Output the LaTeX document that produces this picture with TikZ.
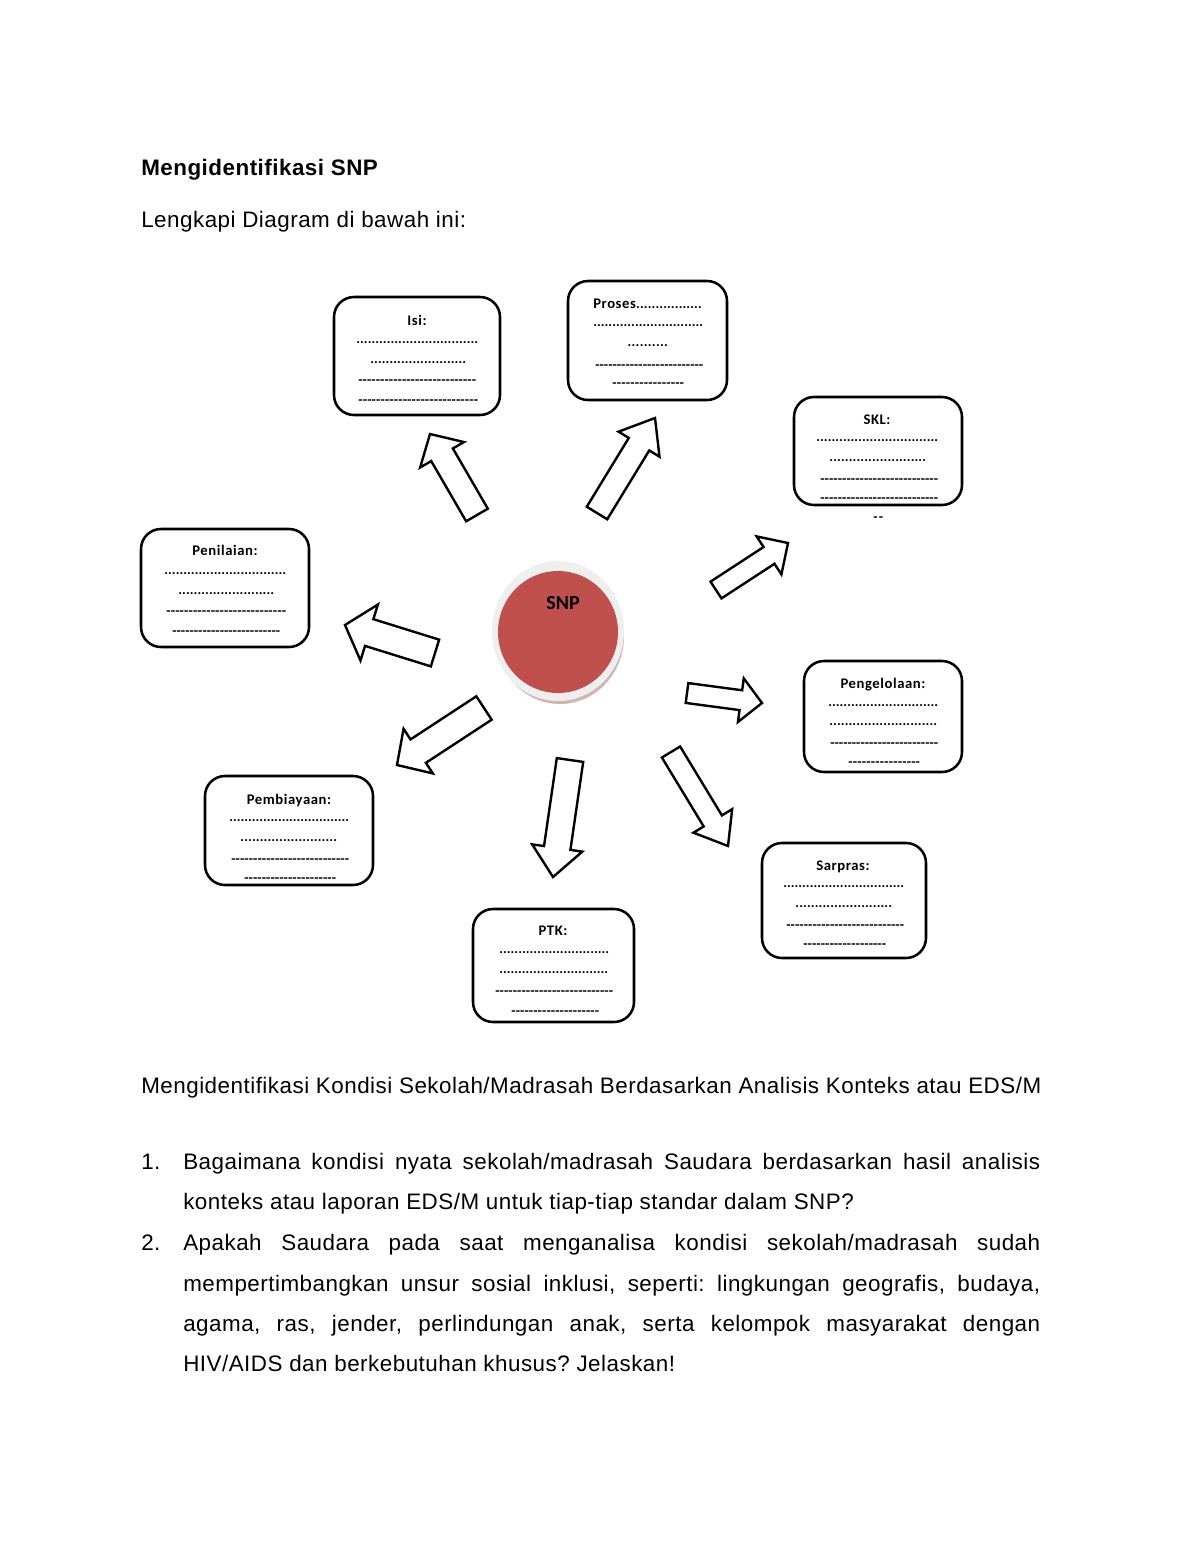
\documentclass[tikz,border=0pt]{standalone}
\usepackage{fontspec}
\setmainfont{Liberation Sans}[LetterSpace=2.2]
\newfontfamily\calfont{Carlito}
\newfontfamily\caltitle{Carlito}[LetterSpace=4]
\usetikzlibrary{calc,shapes.geometric}
\definecolor{snpred}{HTML}{C0504D}
\definecolor{ringgray}{HTML}{EFEFEF}
\definecolor{shadowred}{HTML}{D2B4B4}
\frenchspacing
\newcommand\dotsln[1]{\hbox to \dimexpr #1pt*3/4\relax{\xleaders\hbox{\bfseries.}\hfill}}
\newcommand\dashln[1]{\hbox to \dimexpr #1pt*3/4\relax{\xleaders\hbox{\bfseries-}\hfill}}
\newcommand\blockarrow[5]{%
  \coordinate (ahd) at ($(#2)!#5!(#1)$);
  \draw[barrow] ($(#1)!#3!90:(#2)$) -- ($(ahd)!#3!90:(#2)$) -- ($(ahd)!#4!90:(#2)$) -- (#2)
     -- ($(ahd)!#4!-90:(#2)$) -- ($(ahd)!#3!-90:(#2)$) -- ($(#1)!#3!-90:(#2)$) -- cycle;
}
\tikzset{
  boxst/.style={draw, line width=1.9pt, rounded corners=15pt, fill=white},
  barrow/.style={draw, line width=1.8pt, fill=white, line join=miter},
  btitle/.style={font=\caltitle\bfseries\fontsize{11pt}{12pt}\selectfont, anchor=base, inner sep=0pt},
  bline/.style={font=\calfont\fontsize{10.5pt}{12pt}\selectfont, anchor=base west, inner sep=0pt},
  body/.style={font=\fontsize{16.8pt}{19pt}\selectfont, anchor=base west, inner sep=0pt},
}
\begin{document}
\begin{tikzpicture}[x=0.75pt, y=-0.75pt]
\fill[white] (0,0) rectangle (1200,1553);
\useasboundingbox (0,0) rectangle (1200,1553);

% headings
\node[body, font=\fontsize{16.8pt}{19pt}\selectfont\bfseries] (title) at (141,175) {Mengidentifikasi SNP};
\node[body] (sub) at (141,227) {Lengkapi Diagram di bawah ini:};

% central circle
\fill[shadowred] (560,636) ellipse [x radius=64, y radius=68];
\fill[ringgray] (558,631) ellipse [x radius=66, y radius=70];
\node[ellipse, fill=snpred, minimum width=90pt, minimum height=91.5pt, inner sep=0pt] (snp) at (558,632) {};
\node[font=\calfont\bfseries\fontsize{15pt}{18pt}\selectfont, inner sep=0pt] (snplabel) at (563,603) {SNP};

% boxes
\node[boxst, minimum width=124.5pt, minimum height=88.5pt] (isi) at (417,356) {};
\node[btitle] at (417,325) {Isi:};
\node[bline] at (356,343) {\dotsln{122}};
\node[bline] at (370,363) {\dotsln{96}};
\node[bline] at (358,384) {\dashln{118}};
\node[bline] at (358,404) {\dashln{120}};

\node[boxst, minimum width=119.25pt, minimum height=89.25pt] (proses) at (647.5,340.5) {};
\node[bline] at (593,308) {{\caltitle\bfseries\fontsize{11pt}{12pt}\selectfont Proses}\dotsln{66}};
\node[bline] at (593,326) {\dotsln{110}};
\node[bline] at (627,346) {\dotsln{41}};
\node[bline] at (595,369) {\dashln{108}};
\node[bline] at (612,387) {\dashln{72}};

\node[boxst, minimum width=126pt, minimum height=81pt] (skl) at (878,451) {};
\node[btitle] at (877,424) {SKL:};
\node[bline] at (816,441) {\dotsln{122}};
\node[bline] at (829,461) {\dotsln{97}};
\node[bline] at (820,483) {\dashln{118}};
\node[bline] at (820,502) {\dashln{118}};
\node[bline] at (872,521) {\dashln{12}};

\node[boxst, minimum width=126pt, minimum height=88.5pt] (penilaian) at (225,588) {};
\node[btitle] at (225,555) {Penilaian:};
\node[bline] at (164,574) {\dotsln{122}};
\node[bline] at (178,594) {\dotsln{96}};
\node[bline] at (166,615) {\dashln{120}};
\node[bline] at (172,635) {\dashln{108}};

\node[boxst, minimum width=118.5pt, minimum height=83.25pt] (pengelolaan) at (883,716.5) {};
\node[btitle] at (883,688) {Pengelolaan:};
\node[bline] at (828,706) {\dotsln{110}};
\node[bline] at (829,725) {\dotsln{108}};
\node[bline] at (830,747) {\dashln{108}};
\node[bline] at (848,766) {\dashln{72}};

\node[boxst, minimum width=126pt, minimum height=81.75pt] (pembiayaan) at (289,830.5) {};
\node[btitle] at (289,804) {Pembiayaan:};
\node[bline] at (229,821) {\dotsln{120}};
\node[bline] at (240,841) {\dotsln{97}};
\node[bline] at (231,863) {\dashln{118}};
\node[bline] at (244,882) {\dashln{92}};

\node[boxst, minimum width=123pt, minimum height=86.25pt] (sarpras) at (844,900.5) {};
\node[btitle] at (843,870) {Sarpras:};
\node[bline] at (783,887) {\dotsln{121}};
\node[bline] at (795,907) {\dotsln{97}};
\node[bline] at (786,929) {\dashln{118}};
\node[bline] at (803,948) {\dashln{83}};

\node[boxst, minimum width=120.75pt, minimum height=84.75pt] (ptk) at (553.5,965.5) {};
\node[btitle] at (553,935) {PTK:};
\node[bline] at (499,953) {\dotsln{110}};
\node[bline] at (499,973) {\dotsln{109}};
\node[bline] at (495,995) {\dashln{118}};
\node[bline] at (511,1015) {\dashln{88}};

% block arrows
\coordinate (tIsi) at (477,515);  \coordinate (pIsi) at (430,434);
\coordinate (tPro) at (597,513);  \coordinate (pPro) at (655,418);
\coordinate (tSkl) at (716,590);  \coordinate (pSkl) at (788,543);
\coordinate (tPen) at (435,653);  \coordinate (pPen) at (345,625);
\coordinate (tPem) at (484,708);  \coordinate (pPem) at (397,765);
\coordinate (tPtk) at (570,760);  \coordinate (pPtk) at (553,877);
\coordinate (tSar) at (671,752);  \coordinate (pSar) at (728,846);
\coordinate (tPgl) at (687,693);  \coordinate (pPgl) at (762,703);
\blockarrow{tIsi}{pIsi}{9.4pt}{19pt}{18pt}
\blockarrow{tPro}{pPro}{9pt}{18pt}{23pt}
\blockarrow{tSkl}{pSkl}{7.5pt}{17pt}{17pt}
\blockarrow{tPen}{pPen}{10.5pt}{22pt}{19pt}
\blockarrow{tPem}{pPem}{10.5pt}{20pt}{19pt}
\blockarrow{tPtk}{pPtk}{10pt}{19pt}{22pt}
\blockarrow{tSar}{pSar}{8pt}{17pt}{22pt}
\blockarrow{tPgl}{pPgl}{7.5pt}{16.5pt}{16pt}

% lower text
\node[body] (h2) at (141,1093) {Mengidentifikasi Kondisi Sekolah/Madrasah Berdasarkan Analisis Konteks atau EDS/M};
\node[body] (n1) at (141,1169) {1.};
\node[body] (l1) at (183,1169) {\makebox[642.75pt][s]{Bagaimana kondisi nyata sekolah/madrasah Saudara berdasarkan hasil analisis}};
\node[body] (l2) at (183,1209) {konteks atau laporan EDS/M untuk tiap-tiap standar dalam SNP?};
\node[body] (n2) at (141,1250) {2.};
\node[body] (l3) at (183,1250) {\makebox[642.75pt][s]{Apakah Saudara pada saat menganalisa kondisi sekolah/madrasah sudah}};
\node[body] (l4) at (183,1291) {\makebox[642.75pt][s]{mempertimbangkan unsur sosial inklusi, seperti: lingkungan geografis, budaya,}};
\node[body] (l5) at (183,1331) {\makebox[642.75pt][s]{agama, ras, jender, perlindungan anak, serta kelompok masyarakat dengan}};
\node[body] (l6) at (183,1371) {HIV/AIDS dan berkebutuhan khusus? Jelaskan!};
\end{tikzpicture}
\end{document}
